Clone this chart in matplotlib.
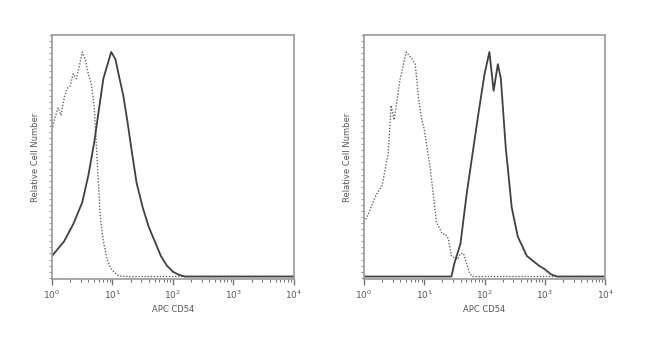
import numpy as np
import matplotlib.pyplot as plt
from matplotlib.ticker import FixedLocator, NullFormatter

# log10 of fluorescence and relative counts
left_solid_log = [0.0, 0.1, 0.2, 0.35, 0.5, 0.6, 0.7, 0.78, 0.85, 0.92, 0.98, 1.05, 1.1, 1.18, 1.25, 1.32, 1.4, 1.5, 1.6, 1.7, 1.8, 1.9, 2.0, 2.1, 2.2, 4.0]
left_solid_cnt = [0.09, 0.12, 0.15, 0.22, 0.31, 0.42, 0.56, 0.70, 0.82, 0.88, 0.93, 0.9, 0.84, 0.75, 0.64, 0.52, 0.39, 0.29, 0.21, 0.15, 0.09, 0.05, 0.025, 0.012, 0.005, 0.005]

left_dot_log = [0.0, 0.05, 0.1, 0.15, 0.2, 0.25, 0.3, 0.35, 0.4, 0.45, 0.5, 0.55, 0.6, 0.65, 0.7, 0.75, 0.8, 0.85, 0.9, 0.95, 1.0, 1.1, 1.2, 4.0]
left_dot_cnt = [0.61, 0.66, 0.70, 0.67, 0.74, 0.78, 0.79, 0.84, 0.82, 0.87, 0.93, 0.9, 0.84, 0.8, 0.70, 0.47, 0.25, 0.15, 0.09, 0.05, 0.03, 0.008, 0.005, 0.005]

right_dot_log = [0.0, 0.05, 0.1, 0.2, 0.3, 0.4, 0.45, 0.5, 0.6, 0.7, 0.8, 0.85, 0.9, 0.95, 1.0, 1.05, 1.1, 1.2, 1.3, 1.35, 1.4, 1.45, 1.55, 1.6, 1.65, 1.7, 1.75, 1.8, 4.0]
right_dot_cnt = [0.23, 0.25, 0.28, 0.34, 0.38, 0.51, 0.71, 0.65, 0.82, 0.93, 0.90, 0.88, 0.75, 0.66, 0.61, 0.53, 0.45, 0.23, 0.18, 0.18, 0.16, 0.09, 0.075, 0.10, 0.10, 0.06, 0.02, 0.005, 0.005]

right_solid_log = [0.0, 1.45, 1.5, 1.6, 1.7, 1.8, 1.9, 2.0, 2.08, 2.15, 2.22, 2.27, 2.35, 2.45, 2.55, 2.7, 2.9, 3.0, 3.1, 3.2, 4.0]
right_solid_cnt = [0.005, 0.005, 0.06, 0.14, 0.34, 0.51, 0.68, 0.84, 0.93, 0.77, 0.88, 0.82, 0.54, 0.29, 0.17, 0.09, 0.05, 0.035, 0.014, 0.005, 0.005]

panels = [
    (left_solid_log, left_solid_cnt, left_dot_log, left_dot_cnt),
    (right_solid_log, right_solid_cnt, right_dot_log, right_dot_cnt),
]
tick_labels = ["$10^{0}$", "$10^{1}$", "$10^{2}$", "$10^{3}$", "$10^{4}$"]

fig = plt.figure(figsize=(6.5, 3.5), dpi=100)
positions = [[0.080, 0.203, 0.372, 0.697], [0.560, 0.203, 0.371, 0.697]]

for pos, (sl, sc, dl, dc) in zip(positions, panels):
    ax = fig.add_axes(pos)
    ax.plot(10 ** np.array(dl), dc, color="#666666", ls=(0, (1, 1.2)), lw=1.0)
    ax.plot(10 ** np.array(sl), sc, color="#404040", lw=1.3)
    ax.set_xscale("log")
    ax.set_xlim(1, 1e4)
    ax.set_ylim(-0.005, 1.0)
    ax.set_xticks([1, 10, 100, 1000, 10000])
    ax.set_xticklabels(tick_labels)
    ax.xaxis.set_minor_locator(FixedLocator([m * 10 ** d for d in range(4) for m in range(2, 10)]))
    ax.xaxis.set_minor_formatter(NullFormatter())
    ax.set_yticks([])
    ax.yaxis.set_minor_locator(FixedLocator(np.linspace(0, 1, 41)))
    ax.tick_params(axis="x", which="major", length=4, width=1, colors="#777777",
                   labelsize=6.5, labelcolor="#555555", pad=3)
    ax.tick_params(axis="x", which="minor", length=2, width=0.8, colors="#777777")
    ax.tick_params(axis="y", which="minor", length=2, width=0.6, colors="#888888")
    for s in ax.spines.values():
        s.set_color("#999999")
        s.set_linewidth(1.2)
    ax.set_xlabel("APC CD54", fontsize=6, color="#555555", labelpad=3)
    ax.set_ylabel("Relative Cell Number", fontsize=6, color="#555555", labelpad=3)

fig.savefig("out.png", dpi=100)
